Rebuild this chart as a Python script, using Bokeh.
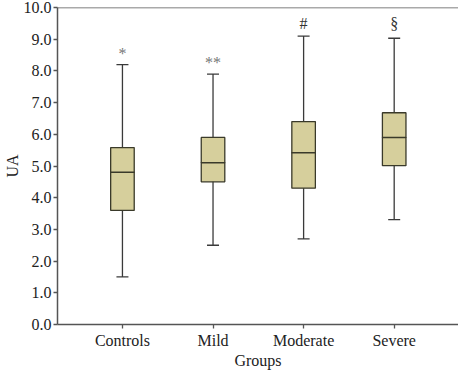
from bokeh.plotting import figure
from bokeh.models import ColumnDataSource, Whisker, TeeHead, Span, Range1d, FixedTicker
from bokeh.core.properties import value
from bokeh.embed import file_html
from bokeh.resources import INLINE

groups = ["Controls", "Mild", "Moderate", "Severe"]
upper = [8.2, 7.9, 9.1, 9.03]
q3 = [5.58, 5.9, 6.4, 6.68]
median = [4.8, 5.1, 5.42, 5.9]
q1 = [3.6, 4.5, 4.3, 5.01]
lower = [1.5, 2.5, 2.7, 3.31]
marks = ["*", "**", "#", "§"]
mark_y = [8.56, 8.25, 9.5, 9.48]
mark_color = ["#777777", "#777777", "#333333", "#333333"]
y_ticks = [0, 1, 2, 3, 4, 5, 6, 7, 8, 9, 10]

xs = list(range(len(groups)))
FONT = "Liberation Serif"

src = ColumnDataSource(dict(x=xs, upper=upper, q3=q3, median=median, q1=q1,
                            lower=lower, mark=marks, mark_y=mark_y, mc=mark_color))

p = figure(width=458, height=371, output_backend="svg", toolbar_location=None,
           x_range=Range1d(-0.717, 3.71), y_range=Range1d(0, 10),
           min_border_left=53, min_border_top=7, min_border_right=0, min_border_bottom=40)
p.outline_line_color = None
p.background_fill_color = "white"
p.border_fill_color = "white"
p.xgrid.visible = False
p.ygrid.visible = False

w = Whisker(base="x", upper="upper", lower="lower", source=src, level="underlay",
            line_color="#3a3a3a", line_width=1.3,
            upper_head=TeeHead(size=12, line_color="#3a3a3a", line_width=1.3),
            lower_head=TeeHead(size=12, line_color="#3a3a3a", line_width=1.3))
p.add_layout(w)

p.vbar(x="x", top="q3", bottom="q1", width=0.26, source=src,
       fill_color="#d6cf9c", line_color="#3a3a2a", line_width=1.3)
p.rect(x="x", y="median", width=0.26, height=0.0001, source=src,
       fill_color=None, line_color="#3a3a2a", line_width=1.5)

p.text(x="x", y="mark_y", text="mark", source=src, text_align="center",
       text_baseline="middle", text_font=value(FONT), text_font_size="16px",
       text_color="mc")

p.add_layout(Span(location=10, dimension="width", line_color="#555555", line_width=1.5))
p.add_layout(Span(location=3.71, dimension="height", line_color="#dddddd", line_width=1))

p.yaxis.ticker = FixedTicker(ticks=y_ticks)
p.yaxis.major_label_overrides = {t: f"{t:.1f}" for t in y_ticks}
p.xaxis.ticker = FixedTicker(ticks=xs)
p.xaxis.major_label_overrides = {i: g for i, g in enumerate(groups)}

for ax in (p.xaxis[0], p.yaxis[0]):
    ax.axis_line_color = "#555555"
    ax.axis_line_width = 1.5
    ax.major_tick_line_color = "#555555"
    ax.major_tick_line_width = 1.3
    ax.major_tick_out = 4
    ax.major_tick_in = 0
    ax.minor_tick_line_color = None
    ax.major_label_text_font = FONT
    ax.major_label_text_font_size = "16px"
    ax.major_label_text_color = "#222222"
    ax.axis_label_text_font = FONT
    ax.axis_label_text_font_size = "16px"
    ax.axis_label_text_font_style = "normal"
    ax.axis_label_text_color = "#222222"

p.xaxis.axis_label = "Groups"
p.yaxis.axis_label = "UA"
p.xaxis.major_label_standoff = 3
p.xaxis.axis_label_standoff = 0
p.yaxis.major_label_standoff = 2
p.yaxis.axis_label_standoff = 0

open("out.html", "w").write(file_html(p, INLINE))
